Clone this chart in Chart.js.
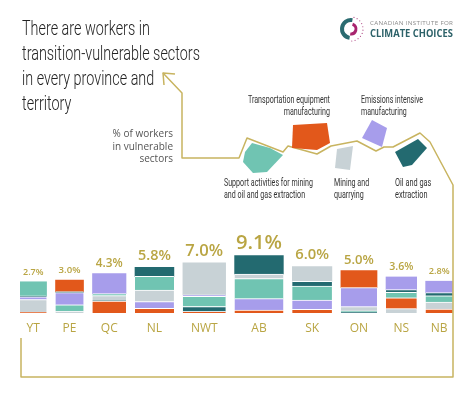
<!DOCTYPE html>
<html>
<head>
<meta charset="utf-8">
<script src="https://cdn.jsdelivr.net/npm/chart.js@4.4.1/dist/chart.umd.min.js"></script>
<style>
  body { margin: 0; background: #fff; }
  #wrap { position: relative; width: 474px; height: 399px; overflow: hidden; }
  canvas { position: absolute; left: 0; top: 0; }
  .t { position: absolute; white-space: nowrap; transform-origin: 0 0; display: inline-block; }
  .r { transform-origin: 100% 0; text-align: right; }
  .title { left: 22px; top: 16px; font: 300 21px/25px Roboto, sans-serif; color: #222; }
  .leg { font: 400 11px/12px Roboto, sans-serif; color: #333; }
  .note { font: 400 10px/12.5px "Open Sans", sans-serif; color: #555; }
  .logo1 { left: 370px; top: 20px; font: 400 6px/7px "Open Sans", sans-serif; color: #8a8a8a; letter-spacing: 0.3px; }
  .logo2 { left: 370px; top: 27px; font: 700 10.5px/12px "Open Sans", sans-serif; color: #2d6269; }
</style>
</head>
<body>
<div id="wrap">
  <canvas id="myChart" width="474" height="399"></canvas>
  <div class="t title" data-w="178">There are workers in<br>transition-vulnerable sectors<br>in every province and<br>territory</div>
  <div class="t logo1" data-w="83">CANADIAN INSTITUTE FOR</div>
  <div class="t logo2" data-w="83">CLIMATE CHOICES</div>
  <div class="t note r" style="right:301px;top:127px;">% of workers<br>in vulnerable<br>sectors</div>
  <div class="t leg r" data-w="82" style="right:144px;top:94px;">Transportation equipment<br>manufacturing</div>
  <div class="t leg" data-w="62" style="left:361px;top:94px;">Emissions intensive<br>manufacturing</div>
  <div class="t leg" data-w="89" style="left:224px;top:177px;">Support activities for mining<br>and oil and gas extraction</div>
  <div class="t leg" data-w="35" style="left:334px;top:177px;">Mining and<br>quarrying</div>
  <div class="t leg" data-w="36" style="left:395px;top:177px;">Oil and gas<br>extraction</div>
</div>
<script>
const ctx = document.getElementById('myChart'); // canvas for the whole graphic

// Provinces / territories and share of workers in vulnerable sectors (%)
const provinces = ['YT', 'PE', 'QC', 'NL', 'NWT', 'AB', 'SK', 'ON', 'NS', 'NB'];
const vulnerablePct = [2.7, 3.0, 4.3, 5.8, 7.0, 9.1, 6.0, 5.0, 3.6, 2.8];

// Share of each sector within a province's vulnerable workers (% of the square)
const transportShare = [3, 35, 30, 10, 3, 5, 8, 40, 30, 12];
const supportShare   = [45, 20, 5, 30, 20, 35, 30, 3, 15, 20];
const emissionsShare = [9, 37, 51, 15, 3, 20, 20, 45, 35, 36];
const miningShare    = [40, 5, 12, 25, 64, 8, 32, 10, 12, 22];
const oilGasShare    = [3, 3, 2, 20, 10, 32, 10, 2, 8, 10];

const sectors = [
  { name: 'Transportation equipment manufacturing', share: transportShare, color: '#e2581b' },
  { name: 'Support activities for mining and oil and gas extraction', share: supportShare, color: '#70c4b2' },
  { name: 'Emissions intensive manufacturing', share: emissionsShare, color: '#a79deb' },
  { name: 'Mining and quarrying', share: miningShare, color: '#c8d2d6' },
  { name: 'Oil and gas extraction', share: oilGasShare, color: '#236a70' }
];

// bottom-to-top order of the sectors inside each square (indexes into sectors)
const stackOrder = [
  [0, 3, 2, 4, 1], [3, 1, 2, 4, 0], [0, 4, 3, 1, 2], [0, 2, 3, 1, 4], [0, 4, 1, 2, 3],
  [0, 2, 1, 3, 4], [0, 2, 1, 4, 3], [4, 1, 3, 2, 0], [3, 0, 1, 4, 2], [0, 3, 1, 4, 2]
];

const GOLD = '#b9a543';
const PX_PER_UNIT = 19;   // y pixels per unit of side length
const WIDTH_RATIO = 0.85; // squares are a little taller than wide
const GAP = 9;

// side of each square grows with the square root of the share
const sides = vulnerablePct.map(p => Math.sqrt(p));
const widths = sides.map(s => s * PX_PER_UNIT * WIDTH_RATIO);
const centers = [];
let run = 0;
widths.forEach(w => { centers.push(run + w / 2); run += w + GAP; });

// one dataset per province and sector, all stacked at the province's x
const datasets = [];
provinces.forEach((p, i) => {
  stackOrder[i].forEach((k, pos) => {
    const sec = sectors[k];
    datasets.push({
      label: p + ' - ' + sec.name,
      data: [{ x: centers[i], y: sides[i] * sec.share[i] / 100 }],
      backgroundColor: sec.color,
      borderColor: '#ffffff',
      borderWidth: { top: pos < 4 ? 1 : 0, left: 0, right: 0, bottom: 0 },
      borderSkipped: 'start',
      barThickness: widths[i],
      stack: 'all'
    });
  });
});

// decorations: gold guide line, legend swatches, logo ring
const decorations = {
  id: 'decorations',
  afterDraw(chart) {
    const c = chart.ctx;
    c.save();
    c.strokeStyle = '#c8b460';
    c.lineWidth = 1.5;
    c.lineJoin = 'round';
    const path = [[182, 93], [182, 158], [239, 158], [247, 138], [283, 152], [288, 146], [317, 154],
      [331, 146], [357, 141], [376, 151], [384, 147], [393, 147], [420, 133], [430, 142],
      [453, 185], [453, 377], [21, 377], [21, 338]];
    c.beginPath();
    c.moveTo(163, 73);
    path.forEach(pt => c.lineTo(pt[0], pt[1]));
    c.stroke();
    c.beginPath();
    c.moveTo(175, 74); c.lineTo(163, 73); c.lineTo(164, 85);
    c.stroke();

    const swatches = [
      ['#70c4b2', [[245, 152], [252, 143], [270, 148], [283, 155], [267, 172], [253, 173], [243, 162]]],
      ['#e2581b', [[293, 125], [327, 123], [330, 143], [317, 150], [292, 148]]],
      ['#c8d2d6', [[337, 149], [353, 146], [350, 170], [335, 168]]],
      ['#a79deb', [[372, 120], [387, 128], [382, 147], [373, 143], [362, 138]]],
      ['#236a70', [[395, 152], [418, 139], [427, 148], [412, 165], [403, 167]]]
    ];
    swatches.forEach(([col, pts]) => {
      c.fillStyle = col;
      c.beginPath();
      pts.forEach((pt, k) => k ? c.lineTo(pt[0], pt[1]) : c.moveTo(pt[0], pt[1]));
      c.closePath();
      c.fill();
    });

    // logo mark
    c.lineCap = 'butt';
    c.strokeStyle = '#2a6b70';
    c.lineWidth = 4;
    c.beginPath(); c.arc(351, 29, 9, Math.PI * 0.55, Math.PI * 1.55); c.stroke();
    c.strokeStyle = '#a8246e';
    c.lineWidth = 3;
    c.beginPath(); c.arc(351, 29, 5, -Math.PI * 0.4, Math.PI * 0.55); c.stroke();
    c.fillStyle = '#b04a86';
    for (let a = -0.42; a <= 0.5; a += 0.09) {
      c.beginPath(); c.arc(351 + 12 * Math.cos(a * Math.PI), 29 + 12 * Math.sin(a * Math.PI), 0.6, 0, Math.PI * 2); c.fill();
    }
    c.restore();
  },
  afterDatasetsDraw(chart) {
    const c = chart.ctx;
    const xs = chart.scales.x, ys = chart.scales.y;
    c.save();
    c.fillStyle = GOLD;
    c.textAlign = 'center';
    c.textBaseline = 'alphabetic';
    vulnerablePct.forEach((p, i) => {
      const size = 1.75 * p + 4.3;
      c.font = '600 ' + size.toFixed(1) + 'px "Open Sans", sans-serif';
      c.fillText(p.toFixed(1) + '%', xs.getPixelForValue(centers[i]), ys.getPixelForValue(sides[i]) - 7);
    });
    c.restore();
  }
};

const myChart = new Chart(ctx, {
  type: 'bar',
  data: { datasets: datasets },
  options: {
    responsive: false,
    animation: false,
    layout: { padding: { left: 20, right: 21, top: 237, bottom: 56 } },
    plugins: { legend: { display: false }, tooltip: { enabled: false } },
    scales: {
      x: {
        type: 'linear',
        stacked: true,
        offset: false,
        min: 0,
        max: 433,
        grid: { display: false, drawTicks: false, offset: false },
        border: { display: false },
        afterBuildTicks: axis => { axis.ticks = centers.map(v => ({ value: v })); },
        afterFit: axis => { axis.height = 30; },
        ticks: {
          autoSkip: false,
          maxRotation: 0,
          padding: 8,
          color: GOLD,
          font: { family: '"Open Sans", sans-serif', size: 12 },
          callback: (value, index) => provinces[index]
        }
      },
      y: { display: false, stacked: true, min: 0, max: 4 }
    }
  },
  plugins: [decorations]
});

// squeeze the condensed headline / label fonts to the widths of the original
document.querySelectorAll('.t[data-w]').forEach(el => {
  const s = parseFloat(el.dataset.w) / el.offsetWidth;
  el.style.transform = 'scaleX(' + s.toFixed(3) + ')';
});
</script>
</body>
</html>
